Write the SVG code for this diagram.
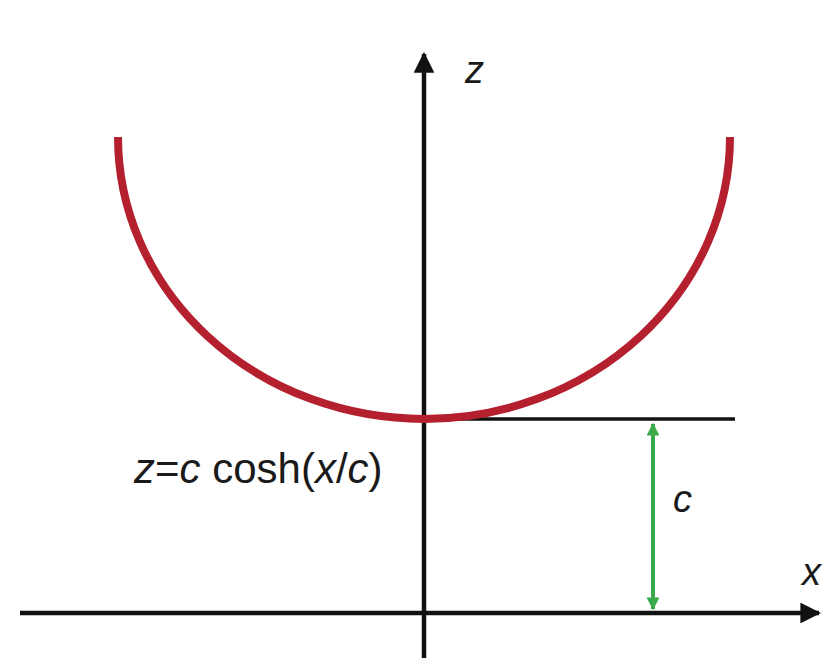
<svg xmlns="http://www.w3.org/2000/svg" width="840" height="672" viewBox="0 0 840 672">
<style>
.ax{stroke:#111;stroke-width:4.5;fill:none}
.lbl{font-family:"Liberation Sans",Arial,sans-serif;fill:#1a1a1a}
.it{font-style:italic}
</style>
<defs>
<marker id="ah" viewBox="0 0 10 10" refX="9" refY="5" markerWidth="4.6" markerHeight="4.6" orient="auto" markerUnits="strokeWidth">
<path d="M0,0 L10,5 L0,10 z" fill="#111"/>
</marker>
<marker id="gh" viewBox="0 0 10 10" refX="9" refY="5" markerWidth="3.4" markerHeight="3.2" orient="auto-start-reverse" markerUnits="strokeWidth">
<path d="M0,0 L10,5 L0,10 z" fill="#3aaa4a"/>
</marker>
</defs>
<rect width="840" height="672" fill="#fff"/>
<g id="connectors">
<line id="x-axis" class="ax" x1="20" y1="613" x2="819" y2="613" marker-end="url(#ah)"/>
<line id="z-axis" class="ax" x1="424" y1="658" x2="424" y2="54" marker-end="url(#ah)"/>
<line id="tangent" x1="424" y1="419" x2="735" y2="419" stroke="#111" stroke-width="3.5"/>
<line id="c-arrow" x1="653" y1="424" x2="653" y2="609" stroke="#3aaa4a" stroke-width="4" marker-start="url(#gh)" marker-end="url(#gh)"/>
</g>
<g id="catenary">
<path d="M118,137 A306,282 0 0 0 730,137" fill="none" stroke="#b5202e" stroke-width="8"/>
</g>
<g id="labels">
<text class="lbl it" x="465" y="83" font-size="38">z</text>
<text class="lbl it" x="802" y="585" font-size="38">x</text>
<text class="lbl it" x="673" y="512" font-size="38">c</text>
<text class="lbl" x="134" y="483" font-size="42"><tspan class="it">z</tspan>=<tspan class="it">c</tspan> cosh(<tspan class="it">x</tspan>/<tspan class="it">c</tspan>)</text>
</g>
</svg>
